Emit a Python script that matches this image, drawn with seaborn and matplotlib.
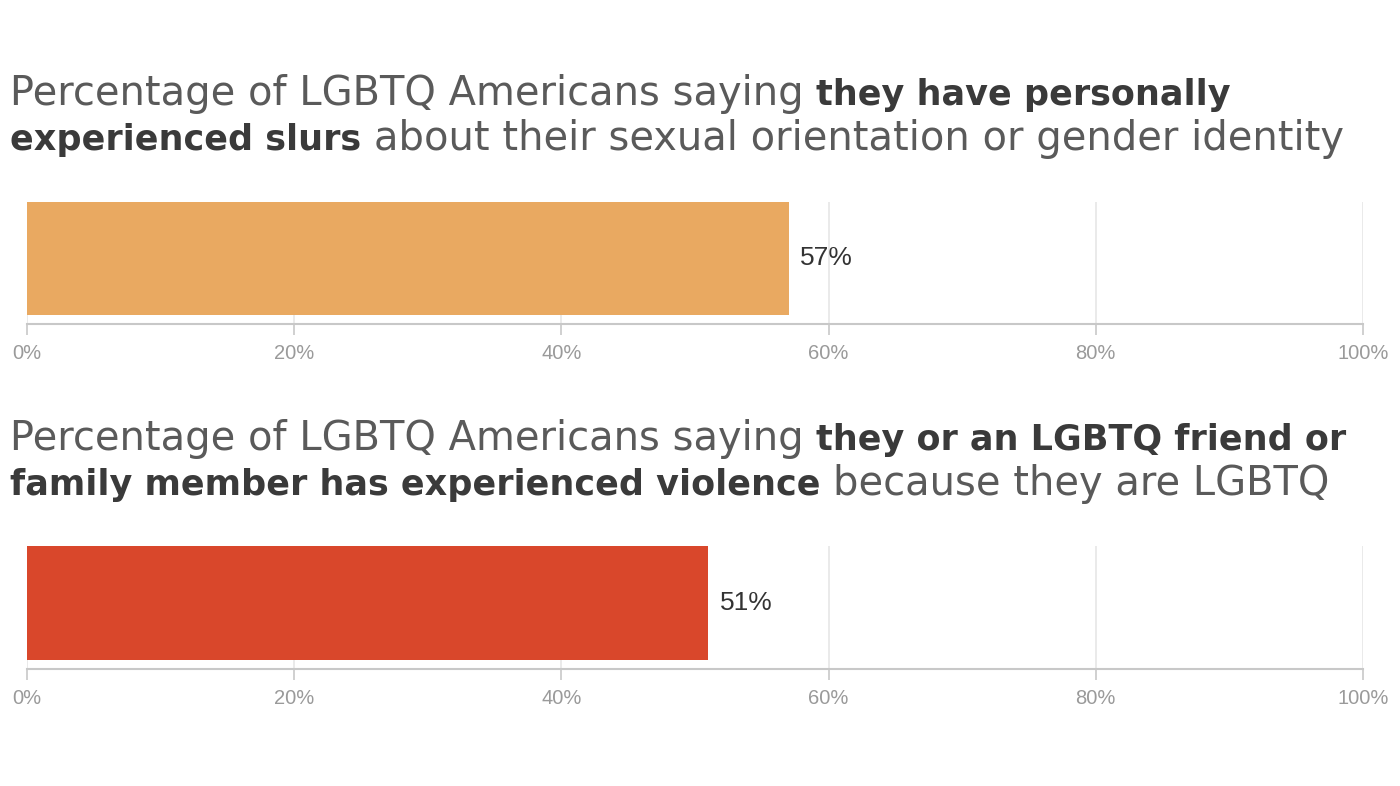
import matplotlib
matplotlib.use("Agg")
import matplotlib.pyplot as plt
import seaborn as sns
import pandas as pd

# data
labels = ["slurs", "violence"]
values = [57, 51]
bar_colors = ["#E9A961", "#D9472B"]
ticks = [0, 20, 40, 60, 80, 100]
tick_labels = ["0%", "20%", "40%", "60%", "80%", "100%"]

titles = [
    [[("Percentage of LGBTQ Americans saying", False), ("they have personally", True)],
     [("experienced slurs", True), ("about their sexual orientation or gender identity", False)]],
    [[("Percentage of LGBTQ Americans saying", False), ("they or an LGBTQ friend or", True)],
     [("family member has experienced violence", True), ("because they are LGBTQ", False)]],
]

sns.set_theme(style="white")
plt.rcParams["font.family"] = ["DejaVu Sans"]

W, H = 1400, 786
fig = plt.figure(figsize=(14, 7.86), dpi=100)
renderer = fig.canvas.get_renderer()

normal_color = "#5a5a5a"
bold_color = "#3a3a3a"
sizes = {False: 25.0, True: 25.0}


def text_width(s, bold, size):
    t = fig.text(0, 0, s, fontsize=size, fontweight="bold" if bold else "normal")
    w = t.get_window_extent(renderer).width
    t.remove()
    return w


def draw_line(segments, x0, baseline):
    x = x0
    for i, (s, bold) in enumerate(segments):
        size = sizes[bold]
        if i > 0:
            x += text_width("x x", bold, size) - text_width("xx", bold, size)
        fig.text(x / W, 1 - baseline / H, s, fontsize=size,
                 fontweight="bold" if bold else "normal",
                 color=bold_color if bold else normal_color,
                 ha="left", va="baseline")
        x += text_width(s, bold, size)


# fit regular and bold sizes to the widths measured on the reference
sizes[False] *= 793 / text_width(titles[0][0][0][0], False, sizes[False])
sizes[True] *= 0.5 * (1 + 418 / text_width(titles[0][0][1][0], True, sizes[True]))

# axes positions in pixels (top, bottom)
axes_px = [(202, 324), (546, 669)]
baselines = [(105, 150), (450, 495)]
left_px, right_px = 27, 1363

for k in range(2):
    top, bottom = axes_px[k]
    ax = fig.add_axes([left_px / W, 1 - bottom / H, (right_px - left_px) / W, (bottom - top) / H])
    df = pd.DataFrame({"label": [labels[k]], "value": [values[k]]})
    sns.barplot(data=df, x="value", y="label", orient="h", color=bar_colors[k],
                width=0.8, saturation=1, ax=ax, zorder=3)
    for p in ax.patches:
        p.set_edgecolor("none")
    ax.set_xlim(0, 100)
    ax.set_ylim(0.464, -0.4)
    ax.set_xticks(ticks)
    ax.set_xticklabels(tick_labels)
    ax.set_yticks([])
    ax.set_xlabel("")
    ax.set_ylabel("")
    ax.grid(axis="x", color="#e6e6e6", linewidth=1.2, zorder=0)
    ax.set_axisbelow(True)
    for side in ["top", "right", "left"]:
        ax.spines[side].set_visible(False)
    ax.spines["bottom"].set_color("#c8c8c8")
    ax.spines["bottom"].set_linewidth(1.5)
    ax.tick_params(axis="x", length=8, width=1.2, color="#c8c8c8", pad=6.5,
                   labelsize=14.5, labelcolor="#9a9a9a", bottom=True)
    for lbl in ax.get_xticklabels():
        lbl.set_fontfamily(["Liberation Sans", "DejaVu Sans"])
    ax.text(values[k] + 0.85, 0, f"{values[k]}%", fontsize=19, color="#333333",
            va="center", ha="left", family=["Liberation Sans", "DejaVu Sans"])

    for line, base in zip(titles[k], baselines[k]):
        draw_line(line, 10, base)

fig.savefig("out.png", dpi=100, facecolor="white")
